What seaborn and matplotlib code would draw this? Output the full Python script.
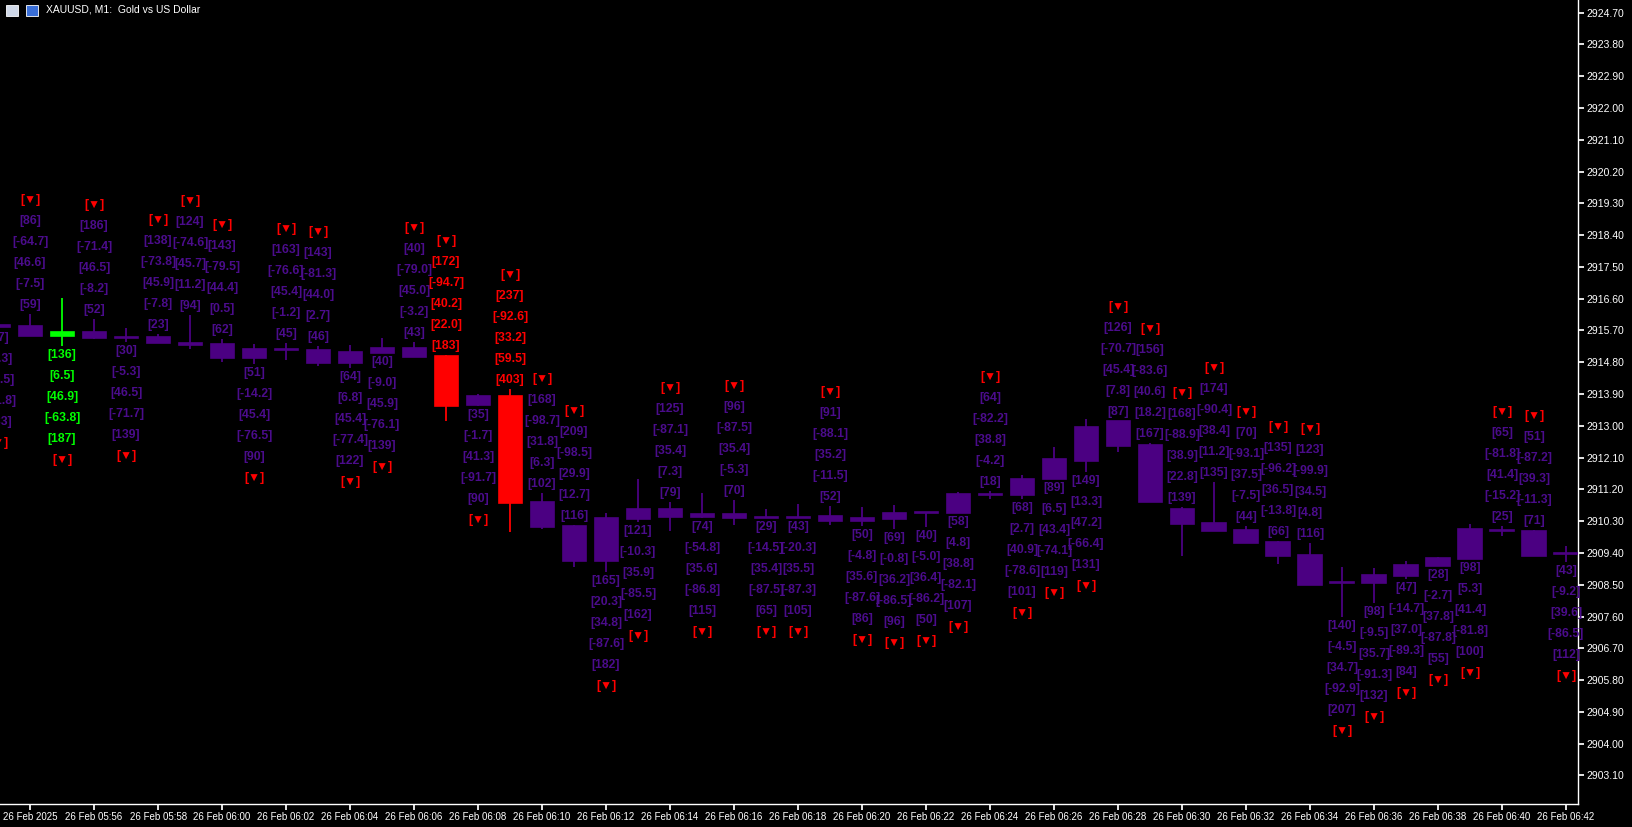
import numpy as np
import pandas as pd
import matplotlib
matplotlib.use("Agg")
import matplotlib.pyplot as plt
import seaborn as sns

# candle prices (body top, body bottom, high, low)
body_top = [2915.85, 2915.83, 2915.66, 2915.66, 2915.51, 2915.51, 2915.35, 2915.32, 2915.17, 2915.17,
            2915.15, 2915.09, 2915.20, 2915.20, 2914.98, 2913.84, 2913.84, 2910.84, 2910.16, 2910.39,
            2910.64, 2910.64, 2910.50, 2910.50, 2910.42, 2910.42, 2910.44, 2910.39, 2910.53, 2910.56,
            2911.07, 2911.07, 2911.49, 2912.06, 2912.97, 2913.14, 2912.46, 2910.64, 2910.25, 2910.05,
            2909.71, 2909.34, 2908.57, 2908.77, 2909.06, 2909.25, 2910.08, 2910.05, 2910.02, 2909.40]
body_bot = [2915.80, 2915.54, 2915.54, 2915.49, 2915.49, 2915.35, 2915.29, 2914.92, 2914.92, 2915.15,
            2914.78, 2914.78, 2915.06, 2914.95, 2913.56, 2913.59, 2910.81, 2910.13, 2909.17, 2909.17,
            2910.36, 2910.42, 2910.42, 2910.39, 2910.39, 2910.39, 2910.30, 2910.30, 2910.36, 2910.53,
            2910.53, 2911.04, 2911.04, 2911.49, 2912.00, 2912.43, 2910.84, 2910.22, 2910.02, 2909.68,
            2909.31, 2908.49, 2908.55, 2908.55, 2908.74, 2909.03, 2909.23, 2910.02, 2909.31, 2909.37]
high = [2915.91, 2916.17, 2916.62, 2916.02, 2915.77, 2915.60, 2916.14, 2915.46, 2915.32, 2915.35,
        2915.26, 2915.29, 2915.49, 2915.37, 2915.00, 2913.90, 2914.04, 2911.10, 2910.19, 2910.53,
        2911.49, 2910.84, 2911.10, 2910.90, 2910.64, 2910.78, 2910.73, 2910.70, 2910.76, 2910.56,
        2911.12, 2911.15, 2911.61, 2912.40, 2913.19, 2913.14, 2912.51, 2910.70, 2911.41, 2910.16,
        2909.74, 2909.68, 2909.00, 2908.97, 2909.17, 2909.28, 2910.22, 2910.16, 2910.05, 2909.59]
low = [2915.74, 2915.54, 2915.26, 2915.46, 2915.37, 2915.35, 2915.17, 2914.81, 2914.75, 2914.86,
       2914.69, 2914.64, 2915.06, 2914.95, 2913.14, 2913.56, 2909.99, 2910.08, 2909.00, 2908.86,
       2910.27, 2910.02, 2910.39, 2910.19, 2910.39, 2910.39, 2910.19, 2910.16, 2910.08, 2910.13,
       2910.53, 2910.93, 2910.93, 2911.49, 2911.69, 2912.26, 2910.84, 2909.31, 2910.02, 2909.68,
       2909.08, 2908.49, 2907.58, 2907.98, 2908.66, 2909.03, 2909.23, 2909.88, 2909.31, 2909.14]

# 'g' green, 'r' red, 'p' purple
kind = ["p"] * 50
kind[2] = "g"
kind[14] = "r"
kind[16] = "r"

# label stacks: side and values (listed top to bottom)
side = ["dn", "up", "dn", "up", "dn", "up", "up", "up", "dn", "up",
        "up", "dn", "dn", "up", "up", "dn", "up", "up", "up", "dn",
        "dn", "up", "dn", "up", "dn", "dn", "up", "dn", "dn", "dn",
        "dn", "up", "dn", "dn", "dn", "up", "up", "up", "up", "up",
        "up", "up", "dn", "dn", "dn", "dn", "dn", "up", "up", "dn"]
labels = [
    ["57", "-8.3", "46.5", "-71.8", "133"],
    ["86", "-64.7", "46.6", "-7.5", "59"],
    ["136", "6.5", "46.9", "-63.8", "187"],
    ["186", "-71.4", "46.5", "-8.2", "52"],
    ["30", "-5.3", "46.5", "-71.7", "139"],
    ["138", "-73.8", "45.9", "-7.8", "23"],
    ["124", "-74.6", "45.7", "11.2", "94"],
    ["143", "-79.5", "44.4", "0.5", "62"],
    ["51", "-14.2", "45.4", "-76.5", "90"],
    ["163", "-76.6", "45.4", "-1.2", "45"],
    ["143", "-81.3", "44.0", "2.7", "46"],
    ["64", "6.8", "45.4", "-77.4", "122"],
    ["40", "-9.0", "45.9", "-76.1", "139"],
    ["40", "-79.0", "45.0", "-3.2", "43"],
    ["172", "-94.7", "40.2", "22.0", "183"],
    ["35", "-1.7", "41.3", "-91.7", "90"],
    ["237", "-92.6", "33.2", "59.5", "403"],
    ["168", "-98.7", "31.8", "6.3", "102"],
    ["209", "-98.5", "29.9", "12.7", "116"],
    ["165", "20.3", "34.8", "-87.6", "182"],
    ["121", "-10.3", "35.9", "-85.5", "162"],
    ["125", "-87.1", "35.4", "7.3", "79"],
    ["74", "-54.8", "35.6", "-86.8", "115"],
    ["96", "-87.5", "35.4", "-5.3", "70"],
    ["29", "-14.5", "35.4", "-87.5", "65"],
    ["43", "-20.3", "35.5", "-87.3", "105"],
    ["91", "-88.1", "35.2", "-11.5", "52"],
    ["50", "-4.8", "35.6", "-87.6", "86"],
    ["69", "-0.8", "36.2", "-86.5", "96"],
    ["40", "-5.0", "36.4", "-86.2", "50"],
    ["58", "4.8", "38.8", "-82.1", "107"],
    ["64", "-82.2", "38.8", "-4.2", "18"],
    ["68", "2.7", "40.9", "-78.6", "101"],
    ["89", "6.5", "43.4", "-74.1", "119"],
    ["149", "13.3", "47.2", "-66.4", "131"],
    ["126", "-70.7", "45.4", "7.8", "87"],
    ["156", "-83.6", "40.6", "18.2", "167"],
    ["168", "-88.9", "38.9", "22.8", "139"],
    ["174", "-90.4", "38.4", "11.2", "135"],
    ["70", "-93.1", "37.5", "-7.5", "44"],
    ["135", "-96.2", "36.5", "-13.8", "66"],
    ["123", "-99.9", "34.5", "4.8", "116"],
    ["140", "-4.5", "34.7", "-92.9", "207"],
    ["98", "-9.5", "35.7", "-91.3", "132"],
    ["47", "-14.7", "37.0", "-89.3", "84"],
    ["28", "-2.7", "37.8", "-87.8", "55"],
    ["98", "5.3", "41.4", "-81.8", "100"],
    ["65", "-81.8", "41.4", "-15.2", "25"],
    ["51", "-87.2", "39.3", "-11.3", "71"],
    ["43", "-9.2", "39.6", "-86.5", "112"],
]

times = ["26 Feb 2025"]
for m in range(56, 103, 2):
    hh, mm = 5 + m // 60, m % 60
    times.append("26 Feb %02d:%02d" % (hh, mm))
time_pos = list(range(1, 50, 2))

df = pd.DataFrame({"top": body_top, "bot": body_bot, "high": high, "low": low,
                   "kind": kind, "side": side})
df["x"] = np.arange(len(df))

colors = {"p": "#4B0082", "g": "#00FF00", "r": "#FF0000"}
txt_colors = {"p": "#4B0C8C", "g": "#00FF00", "r": "#FF0000"}

sns.set_theme(style="dark", rc={"figure.facecolor": "black", "axes.facecolor": "black"})
plt.rcParams["font.family"] = ["Liberation Sans", "DejaVu Sans"]

fig = plt.figure(figsize=(16.32, 8.27), dpi=100)
ax = fig.add_axes([0, 1 - 804 / 827, 1578 / 1632, 804 / 827])
ax.set_facecolor("black")

bar_c = [colors[k] for k in df["kind"]]
ax.vlines(df["x"], df["low"], df["high"], colors=bar_c, linewidth=1.3, zorder=2)
ax.bar(df["x"], df["top"] - df["bot"], bottom=df["bot"], width=0.72,
       color=bar_c, edgecolor=bar_c, linewidth=1.2, zorder=3)

PX = 0.72  # points per pixel
for i, row in df.iterrows():
    c = txt_colors[row["kind"]]
    vals = labels[i]
    if row["side"] == "up":
        stack = list(reversed(["▼"] + vals))
        sign, anchor = 1, row["high"]
    else:
        stack = vals + ["▼"]
        sign, anchor = -1, row["low"]
    for j, v in enumerate(stack):
        ax.annotate("[%s]" % v, (row["x"], anchor), xytext=(0, sign * (9 + 21 * j) * PX),
                    textcoords="offset points", ha="center", va="center", fontsize=8.8,
                    fontweight="bold", color="#FF0000" if v == "▼" else c,
                    annotation_clip=False)

ax.set_xlim(0.06, 49.375)
ax.set_ylim(2902.29, 2925.06)

yt = np.round(np.arange(2903.10, 2924.71, 0.90), 2)
ax.yaxis.tick_right()
ax.set_yticks(yt)
ax.set_yticklabels(["%.2f" % v for v in yt])
ax.set_xticks(time_pos)
ax.set_xticklabels(times)
ax.tick_params(axis="y", colors="white", labelsize=7.5, length=4, direction="out", pad=2)
ax.tick_params(axis="x", colors="white", labelsize=7, length=4, direction="out", pad=2)
ax.tick_params(bottom=True, right=True, left=False)
ax.grid(False)
for s in ["top", "left"]:
    ax.spines[s].set_visible(False)
for s in ["right", "bottom"]:
    ax.spines[s].set_visible(True)
    ax.spines[s].set_color("white")
    ax.spines[s].set_linewidth(1)

# small header icons and symbol text
for ix, fc in [(6, "#cfd8e8"), (26, "#3a6fd8")]:
    fig.patches.append(plt.Rectangle((ix / 1632, 1 - 16 / 827), 12 / 1632, 11 / 827,
                                     transform=fig.transFigure, facecolor=fc,
                                     edgecolor="white", linewidth=0.6))
fig.text(46 / 1632, 1 - 10 / 827, "XAUUSD, M1:  Gold vs US Dollar", color="white",
         fontsize=7.5, va="center", ha="left")

fig.savefig("out.png", dpi=100, facecolor="black")
